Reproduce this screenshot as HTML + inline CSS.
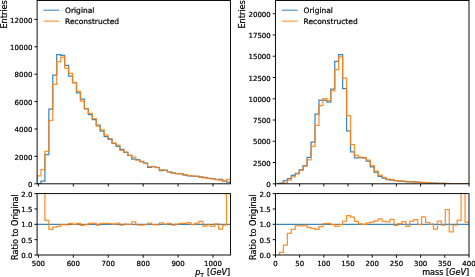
<!DOCTYPE html>
<html><head><meta charset="utf-8"><title>Original vs Reconstructed</title>
<style>
html,body{margin:0;padding:0;background:#fff;}
body{width:475px;height:277px;overflow:hidden;}
svg{display:block;}
text{font-family:"DejaVu Sans","Liberation Sans",sans-serif;fill:#000;stroke:#000;stroke-width:0.22px;}
.tl{font-size:7.0px;}
.al{font-size:8.1px;}
.lg{font-size:7.5px;}
.tk{stroke:#000;stroke-width:0.95;}
.sp{fill:none;stroke:#000;stroke-width:0.95;}
</style></head>
<body>
<svg width="475" height="277" viewBox="0 0 475 277">
<rect width="475" height="277" fill="#fff"/>
<clipPath id="Lm"><rect x="37.1" y="0.5" width="193.35" height="183.3"/></clipPath>
<clipPath id="Lr"><rect x="37.1" y="193.6" width="193.35" height="61.4"/></clipPath>
<g clip-path="url(#Lm)" fill="none" stroke-width="1.25" stroke-opacity="0.88" stroke-linejoin="miter">
<path d="M37,183.8 L37,183.8 L40.95,183.8 L40.95,181 L44.9,181 L44.9,154.6 L48.85,154.6 L48.85,109 L52.8,109 L52.8,75.2 L56.74,75.2 L56.74,54.7 L60.69,54.7 L60.69,55.4 L64.64,55.4 L64.64,65.4 L68.59,65.4 L68.59,76 L72.54,76 L72.54,82.5 L76.49,82.5 L76.49,92.8 L80.44,92.8 L80.44,99 L84.39,99 L84.39,108.7 L88.34,108.7 L88.34,114.5 L92.29,114.5 L92.29,119.6 L96.23,119.6 L96.23,125 L100.18,125 L100.18,131.2 L104.13,131.2 L104.13,136.5 L108.08,136.5 L108.08,139.4 L112.03,139.4 L112.03,143.3 L115.98,143.3 L115.98,146.4 L119.93,146.4 L119.93,149.4 L123.88,149.4 L123.88,152.4 L127.83,152.4 L127.83,155.3 L131.78,155.3 L131.78,159 L135.72,159 L135.72,159.7 L139.67,159.7 L139.67,161.3 L143.62,161.3 L143.62,163.2 L147.57,163.2 L147.57,167.3 L151.52,167.3 L151.52,166.6 L155.47,166.6 L155.47,167.4 L159.42,167.4 L159.42,170.5 L163.37,170.5 L163.37,170.1 L167.32,170.1 L167.32,171.9 L171.27,171.9 L171.27,172.8 L175.21,172.8 L175.21,173.7 L179.16,173.7 L179.16,173.9 L183.11,173.9 L183.11,175 L187.06,175 L187.06,175.8 L191.01,175.8 L191.01,176.1 L194.96,176.1 L194.96,176.4 L198.91,176.4 L198.91,177.2 L202.86,177.2 L202.86,177.4 L206.81,177.4 L206.81,178.3 L210.76,178.3 L210.76,178.5 L214.7,178.5 L214.7,179.5 L218.65,179.5 L218.65,179.4 L222.6,179.4 L222.6,181 L226.55,181 L226.55,182.1 L230.5,182.1 L230.5,183.8" stroke="#1f77b4"/>
<path d="M37,183.8 L37,175.9 L40.95,175.9 L40.95,169.6 L44.9,169.6 L44.9,151.3 L48.85,151.3 L48.85,120.4 L52.8,120.4 L52.8,84.4 L56.74,84.4 L56.74,61.6 L60.69,61.6 L60.69,57.2 L64.64,57.2 L64.64,68.2 L68.59,68.2 L68.59,73.4 L72.54,73.4 L72.54,82.6 L76.49,82.6 L76.49,91.3 L80.44,91.3 L80.44,101.2 L84.39,101.2 L84.39,108.8 L88.34,108.8 L88.34,113.4 L92.29,113.4 L92.29,118.6 L96.23,118.6 L96.23,126.1 L100.18,126.1 L100.18,129.8 L104.13,129.8 L104.13,135.11 L108.08,135.11 L108.08,138.53 L112.03,138.53 L112.03,143.04 L115.98,143.04 L115.98,145.06 L119.93,145.06 L119.93,150.41 L123.88,150.41 L123.88,152.09 L127.83,152.09 L127.83,155.3 L131.78,155.3 L131.78,157.06 L135.72,157.06 L135.72,160.09 L139.67,160.09 L139.67,161.89 L143.62,161.89 L143.62,163.33 L147.57,163.33 L147.57,166.6 L151.52,166.6 L151.52,166.71 L155.47,166.71 L155.47,167.67 L159.42,167.67 L159.42,169.85 L163.37,169.85 L163.37,170.06 L167.32,170.06 L167.32,171.55 L171.27,171.55 L171.27,173.12 L175.21,173.12 L175.21,173.63 L179.16,173.63 L179.16,173.58 L183.11,173.58 L183.11,174.71 L187.06,174.71 L187.06,175.33 L191.01,175.33 L191.01,176.18 L194.96,176.18 L194.96,176.13 L198.91,176.13 L198.91,176.58 L202.86,176.58 L202.86,177.78 L206.81,177.78 L206.81,178.39 L210.76,178.39 L210.76,178.86 L214.7,178.86 L214.7,179.43 L218.65,179.43 L218.65,180.07 L222.6,180.07 L222.6,181.08 L226.55,181.08 L226.55,179.4 L230.5,179.4 L230.5,183.8" stroke="#ff7f0e"/>
</g>
<g clip-path="url(#Lr)" fill="none" stroke-width="1.25" stroke-opacity="0.88">
<line x1="37.1" y1="224.3" x2="230.45" y2="224.3" stroke="#1f77b4"/>
<path d="M40.95,150 L44.9,150 L44.9,220.3 L48.85,220.3 L48.85,229.3 L52.8,229.3 L52.8,227 L56.74,227 L56.74,226.3 L60.69,226.3 L60.69,224.7 L64.64,224.7 L64.64,224.8 L68.59,224.8 L68.59,223.4 L72.54,223.4 L72.54,224.3 L76.49,224.3 L76.49,223.4 L80.44,223.4 L80.44,225.4 L84.39,225.4 L84.39,224.5 L88.34,224.5 L88.34,223.4 L92.29,223.4 L92.29,223.4 L96.23,223.4 L96.23,225.2 L100.18,225.2 L100.18,223.4 L104.13,223.4 L104.13,223.4 L108.08,223.4 L108.08,223.7 L112.03,223.7 L112.03,224.1 L115.98,224.1 L115.98,223.2 L119.93,223.2 L119.93,225.2 L123.88,225.2 L123.88,224 L127.83,224 L127.83,224.3 L131.78,224.3 L131.78,221.9 L135.72,221.9 L135.72,224.8 L139.67,224.8 L139.67,225.1 L143.62,225.1 L143.62,224.5 L147.57,224.5 L147.57,223 L151.52,223 L151.52,224.5 L155.47,224.5 L155.47,224.8 L159.42,224.8 L159.42,222.8 L163.37,222.8 L163.37,224.2 L167.32,224.2 L167.32,223.4 L171.27,223.4 L171.27,225.2 L175.21,225.2 L175.21,224.1 L179.16,224.1 L179.16,223.3 L183.11,223.3 L183.11,223.3 L187.06,223.3 L187.06,222.5 L191.01,222.5 L191.01,224.6 L194.96,224.6 L194.96,223.2 L198.91,223.2 L198.91,221.4 L202.86,221.4 L202.86,226.1 L206.81,226.1 L206.81,224.8 L210.76,224.8 L210.76,226.4 L214.7,226.4 L214.7,223.8 L218.65,223.8 L218.65,229 L222.6,229 L222.6,225.2 L226.55,225.2 L226.55,150 L230.5,150" stroke="#ff7f0e"/>
</g>
<rect x="37.1" y="0.5" width="193.35" height="183.3" class="sp"/>
<rect x="37.1" y="193.6" width="193.35" height="61.4" class="sp"/>
<line x1="34.4" y1="183.8" x2="37.1" y2="183.8" class="tk"/>
<text x="32.4" y="186.95" class="tl" text-anchor="end">0</text>
<line x1="34.4" y1="156.4" x2="37.1" y2="156.4" class="tk"/>
<text x="32.4" y="159.55" class="tl" text-anchor="end">2000</text>
<line x1="34.4" y1="129" x2="37.1" y2="129" class="tk"/>
<text x="32.4" y="132.15" class="tl" text-anchor="end">4000</text>
<line x1="34.4" y1="101.6" x2="37.1" y2="101.6" class="tk"/>
<text x="32.4" y="104.75" class="tl" text-anchor="end">6000</text>
<line x1="34.4" y1="74.2" x2="37.1" y2="74.2" class="tk"/>
<text x="32.4" y="77.35" class="tl" text-anchor="end">8000</text>
<line x1="34.4" y1="46.8" x2="37.1" y2="46.8" class="tk"/>
<text x="32.4" y="49.95" class="tl" text-anchor="end">10000</text>
<line x1="34.4" y1="19.4" x2="37.1" y2="19.4" class="tk"/>
<text x="32.4" y="22.55" class="tl" text-anchor="end">12000</text>
<line x1="34.4" y1="255" x2="37.1" y2="255" class="tk"/>
<text x="32.4" y="258.15" class="tl" text-anchor="end">0.0</text>
<line x1="34.4" y1="239.65" x2="37.1" y2="239.65" class="tk"/>
<text x="32.4" y="242.8" class="tl" text-anchor="end">0.5</text>
<line x1="34.4" y1="224.3" x2="37.1" y2="224.3" class="tk"/>
<text x="32.4" y="227.45" class="tl" text-anchor="end">1.0</text>
<line x1="34.4" y1="208.95" x2="37.1" y2="208.95" class="tk"/>
<text x="32.4" y="212.1" class="tl" text-anchor="end">1.5</text>
<line x1="34.4" y1="193.6" x2="37.1" y2="193.6" class="tk"/>
<text x="32.4" y="196.75" class="tl" text-anchor="end">2.0</text>
<line x1="38.4" y1="183.8" x2="38.4" y2="186.5" class="tk"/>
<line x1="73.32" y1="183.8" x2="73.32" y2="186.5" class="tk"/>
<line x1="108.24" y1="183.8" x2="108.24" y2="186.5" class="tk"/>
<line x1="143.16" y1="183.8" x2="143.16" y2="186.5" class="tk"/>
<line x1="178.08" y1="183.8" x2="178.08" y2="186.5" class="tk"/>
<line x1="213" y1="183.8" x2="213" y2="186.5" class="tk"/>
<line x1="38.4" y1="255" x2="38.4" y2="257.7" class="tk"/>
<text x="38.4" y="265.7" class="tl" text-anchor="middle">500</text>
<line x1="73.32" y1="255" x2="73.32" y2="257.7" class="tk"/>
<text x="73.32" y="265.7" class="tl" text-anchor="middle">600</text>
<line x1="108.24" y1="255" x2="108.24" y2="257.7" class="tk"/>
<text x="108.24" y="265.7" class="tl" text-anchor="middle">700</text>
<line x1="143.16" y1="255" x2="143.16" y2="257.7" class="tk"/>
<text x="143.16" y="265.7" class="tl" text-anchor="middle">800</text>
<line x1="178.08" y1="255" x2="178.08" y2="257.7" class="tk"/>
<text x="178.08" y="265.7" class="tl" text-anchor="middle">900</text>
<line x1="213" y1="255" x2="213" y2="257.7" class="tk"/>
<text x="213" y="265.7" class="tl" text-anchor="middle">1000</text>
<text class="al" transform="translate(6.5,0.3) rotate(-90)" text-anchor="end">Entries</text>
<text class="al" transform="translate(17.5,194.2) rotate(-90)" text-anchor="end">Ratio to Original</text>
<text class="al" x="230.15" y="275.45" text-anchor="end"><tspan font-style="italic">p</tspan><tspan font-size="5.35" dy="1.5">T</tspan><tspan dy="-1.5" dx="0.7"> [</tspan><tspan font-style="italic">GeV</tspan>]</text>
<line x1="43.45" y1="10.25" x2="59.15" y2="10.25" stroke="#1f77b4" stroke-width="1.25" opacity="0.75"/>
<line x1="43.45" y1="21.2" x2="59.15" y2="21.2" stroke="#ff7f0e" stroke-width="1.25" opacity="0.75"/>
<text x="65.05" y="12.6" class="lg">Original</text>
<text x="65.05" y="23.55" class="lg">Reconstructed</text>
<clipPath id="Rm"><rect x="275.45" y="0.5" width="193.55" height="183.3"/></clipPath>
<clipPath id="Rr"><rect x="275.45" y="193.6" width="193.55" height="61.4"/></clipPath>
<g clip-path="url(#Rm)" fill="none" stroke-width="1.25" stroke-opacity="0.88" stroke-linejoin="miter">
<path d="M275.5,183.8 L275.5,183.8 L279.45,183.8 L279.45,183 L283.4,183 L283.4,180.5 L287.35,180.5 L287.35,178.6 L291.3,178.6 L291.3,175.4 L295.24,175.4 L295.24,173.3 L299.19,173.3 L299.19,169.8 L303.14,169.8 L303.14,165.5 L307.09,165.5 L307.09,157.3 L311.04,157.3 L311.04,142 L314.99,142 L314.99,114.1 L318.94,114.1 L318.94,100.1 L322.89,100.1 L322.89,100.3 L326.84,100.3 L326.84,102.2 L330.79,102.2 L330.79,89.1 L334.73,89.1 L334.73,61.4 L338.68,61.4 L338.68,54.7 L342.63,54.7 L342.63,88.6 L346.58,88.6 L346.58,130.8 L350.53,130.8 L350.53,151.9 L354.48,151.9 L354.48,157.8 L358.43,157.8 L358.43,157.5 L362.38,157.5 L362.38,157.8 L366.33,157.8 L366.33,161.2 L370.28,161.2 L370.28,166.8 L374.22,166.8 L374.22,172.4 L378.17,172.4 L378.17,176.4 L382.12,176.4 L382.12,178 L386.07,178 L386.07,179.5 L390.02,179.5 L390.02,180.2 L393.97,180.2 L393.97,180.6 L397.92,180.6 L397.92,181 L401.87,181 L401.87,181.3 L405.82,181.3 L405.82,181.6 L409.77,181.6 L409.77,181.9 L413.71,181.9 L413.71,182.2 L417.66,182.2 L417.66,182.4 L421.61,182.4 L421.61,182.6 L425.56,182.6 L425.56,182.8 L429.51,182.8 L429.51,183 L433.46,183 L433.46,183.2 L437.41,183.2 L437.41,183.3 L441.36,183.3 L441.36,183.4 L445.31,183.4 L445.31,183.5 L449.26,183.5 L449.26,183.55 L453.2,183.55 L453.2,183.6 L457.15,183.6 L457.15,183.65 L461.1,183.65 L461.1,183.7 L465.05,183.7 L465.05,183.7 L469,183.7 L469,183.8" stroke="#1f77b4"/>
<path d="M275.5,183.8 L275.5,183.8 L279.45,183.8 L279.45,183.73 L283.4,183.73 L283.4,182.75 L287.35,182.75 L287.35,180.14 L291.3,180.14 L291.3,176.79 L295.24,176.79 L295.24,173.84 L299.19,173.84 L299.19,170.47 L303.14,170.47 L303.14,166.07 L307.09,166.07 L307.09,159.95 L311.04,159.95 L311.04,146.3 L314.99,146.3 L314.99,125.4 L318.94,125.4 L318.94,105.5 L322.89,105.5 L322.89,98.6 L326.84,98.6 L326.84,100.6 L330.79,100.6 L330.79,90.8 L334.73,90.8 L334.73,69.7 L338.68,69.7 L338.68,56.9 L342.63,56.9 L342.63,78.2 L346.58,78.2 L346.58,115.6 L350.53,115.6 L350.53,144.56 L354.48,144.56 L354.48,155.3 L358.43,155.3 L358.43,157.03 L362.38,157.03 L362.38,157.93 L366.33,157.93 L366.33,160.14 L370.28,160.14 L370.28,165.53 L374.22,165.53 L374.22,171.09 L378.17,171.09 L378.17,175.11 L382.12,175.11 L382.12,177.45 L386.07,177.45 L386.07,179.16 L390.02,179.16 L390.02,179.62 L393.97,179.62 L393.97,180.7 L397.92,180.7 L397.92,180.94 L401.87,180.94 L401.87,181.08 L405.82,181.08 L405.82,181.75 L409.77,181.75 L409.77,181.71 L413.71,181.71 L413.71,181.96 L417.66,181.96 L417.66,182.42 L421.61,182.42 L421.61,182.31 L425.56,182.31 L425.56,182.74 L429.51,182.74 L429.51,183 L433.46,183 L433.46,183.3 L437.41,183.3 L437.41,183.25 L441.36,183.25 L441.36,183.41 L445.31,183.41 L445.31,183.36 L449.26,183.36 L449.26,183.61 L453.2,183.61 L453.2,183.61 L457.15,183.61 L457.15,183.63 L461.1,183.63 L461.1,183.5 L465.05,183.5 L465.05,183.69 L469,183.69 L469,183.8" stroke="#ff7f0e"/>
</g>
<g clip-path="url(#Rr)" fill="none" stroke-width="1.25" stroke-opacity="0.88">
<line x1="275.45" y1="224.3" x2="469" y2="224.3" stroke="#1f77b4"/>
<path d="M279.45,255 L279.45,252.45 L283.4,252.45 L283.4,245.21 L287.35,245.21 L287.35,233.39 L291.3,233.39 L291.3,229.37 L295.24,229.37 L295.24,225.87 L299.19,225.87 L299.19,225.77 L303.14,225.77 L303.14,225.25 L307.09,225.25 L307.09,227.37 L311.04,227.37 L311.04,228.35 L314.99,228.35 L314.99,229.37 L318.94,229.37 L318.94,226.6 L322.89,226.6 L322.89,223.69 L326.84,223.69 L326.84,223.44 L330.79,223.44 L330.79,224.61 L334.73,224.61 L334.73,226.26 L338.68,226.26 L338.68,224.61 L342.63,224.61 L342.63,221.02 L346.58,221.02 L346.58,215.61 L350.53,215.61 L350.53,217.24 L354.48,217.24 L354.48,221.35 L358.43,221.35 L358.43,223.75 L362.38,223.75 L362.38,224.45 L366.33,224.45 L366.33,222.86 L370.28,222.86 L370.28,222 L374.22,222 L374.22,220.77 L378.17,220.77 L378.17,218.93 L382.12,218.93 L382.12,221.38 L386.07,221.38 L386.07,221.84 L390.02,221.84 L390.02,219.39 L393.97,219.39 L393.97,225.28 L397.92,225.28 L397.92,223.69 L401.87,223.69 L401.87,221.63 L405.82,221.63 L405.82,226.45 L409.77,226.45 L409.77,221.23 L413.71,221.23 L413.71,219.73 L417.66,219.73 L417.66,224.67 L421.61,224.67 L421.61,216.78 L425.56,216.78 L425.56,222.46 L429.51,222.46 L429.51,224.18 L433.46,224.18 L433.46,229.21 L437.41,229.21 L437.41,221.23 L441.36,221.23 L441.36,225.16 L445.31,225.16 L445.31,209.56 L449.26,209.56 L449.26,231.97 L453.2,231.97 L453.2,225.22 L457.15,225.22 L457.15,220.31 L461.1,220.31 L461.1,162.9 L465.05,162.9 L465.05,222.24 L469,222.24" stroke="#ff7f0e"/>
</g>
<rect x="275.45" y="0.5" width="193.55" height="183.3" class="sp"/>
<rect x="275.45" y="193.6" width="193.55" height="61.4" class="sp"/>
<line x1="272.75" y1="183.8" x2="275.45" y2="183.8" class="tk"/>
<text x="270.75" y="186.95" class="tl" text-anchor="end">0</text>
<line x1="272.75" y1="162.54" x2="275.45" y2="162.54" class="tk"/>
<text x="270.75" y="165.69" class="tl" text-anchor="end">2500</text>
<line x1="272.75" y1="141.28" x2="275.45" y2="141.28" class="tk"/>
<text x="270.75" y="144.43" class="tl" text-anchor="end">5000</text>
<line x1="272.75" y1="120.02" x2="275.45" y2="120.02" class="tk"/>
<text x="270.75" y="123.17" class="tl" text-anchor="end">7500</text>
<line x1="272.75" y1="98.76" x2="275.45" y2="98.76" class="tk"/>
<text x="270.75" y="101.91" class="tl" text-anchor="end">10000</text>
<line x1="272.75" y1="77.5" x2="275.45" y2="77.5" class="tk"/>
<text x="270.75" y="80.65" class="tl" text-anchor="end">12500</text>
<line x1="272.75" y1="56.24" x2="275.45" y2="56.24" class="tk"/>
<text x="270.75" y="59.39" class="tl" text-anchor="end">15000</text>
<line x1="272.75" y1="34.98" x2="275.45" y2="34.98" class="tk"/>
<text x="270.75" y="38.13" class="tl" text-anchor="end">17500</text>
<line x1="272.75" y1="13.72" x2="275.45" y2="13.72" class="tk"/>
<text x="270.75" y="16.87" class="tl" text-anchor="end">20000</text>
<line x1="272.75" y1="255" x2="275.45" y2="255" class="tk"/>
<text x="270.75" y="258.15" class="tl" text-anchor="end">0.0</text>
<line x1="272.75" y1="239.65" x2="275.45" y2="239.65" class="tk"/>
<text x="270.75" y="242.8" class="tl" text-anchor="end">0.5</text>
<line x1="272.75" y1="224.3" x2="275.45" y2="224.3" class="tk"/>
<text x="270.75" y="227.45" class="tl" text-anchor="end">1.0</text>
<line x1="272.75" y1="208.95" x2="275.45" y2="208.95" class="tk"/>
<text x="270.75" y="212.1" class="tl" text-anchor="end">1.5</text>
<line x1="272.75" y1="193.6" x2="275.45" y2="193.6" class="tk"/>
<text x="270.75" y="196.75" class="tl" text-anchor="end">2.0</text>
<line x1="275.45" y1="183.8" x2="275.45" y2="186.5" class="tk"/>
<line x1="299.64" y1="183.8" x2="299.64" y2="186.5" class="tk"/>
<line x1="323.84" y1="183.8" x2="323.84" y2="186.5" class="tk"/>
<line x1="348.03" y1="183.8" x2="348.03" y2="186.5" class="tk"/>
<line x1="372.23" y1="183.8" x2="372.23" y2="186.5" class="tk"/>
<line x1="396.42" y1="183.8" x2="396.42" y2="186.5" class="tk"/>
<line x1="420.61" y1="183.8" x2="420.61" y2="186.5" class="tk"/>
<line x1="444.81" y1="183.8" x2="444.81" y2="186.5" class="tk"/>
<line x1="469" y1="183.8" x2="469" y2="186.5" class="tk"/>
<line x1="275.45" y1="255" x2="275.45" y2="257.7" class="tk"/>
<text x="275.45" y="265.7" class="tl" text-anchor="middle">0</text>
<line x1="299.64" y1="255" x2="299.64" y2="257.7" class="tk"/>
<text x="299.64" y="265.7" class="tl" text-anchor="middle">50</text>
<line x1="323.84" y1="255" x2="323.84" y2="257.7" class="tk"/>
<text x="323.84" y="265.7" class="tl" text-anchor="middle">100</text>
<line x1="348.03" y1="255" x2="348.03" y2="257.7" class="tk"/>
<text x="348.03" y="265.7" class="tl" text-anchor="middle">150</text>
<line x1="372.23" y1="255" x2="372.23" y2="257.7" class="tk"/>
<text x="372.23" y="265.7" class="tl" text-anchor="middle">200</text>
<line x1="396.42" y1="255" x2="396.42" y2="257.7" class="tk"/>
<text x="396.42" y="265.7" class="tl" text-anchor="middle">250</text>
<line x1="420.61" y1="255" x2="420.61" y2="257.7" class="tk"/>
<text x="420.61" y="265.7" class="tl" text-anchor="middle">300</text>
<line x1="444.81" y1="255" x2="444.81" y2="257.7" class="tk"/>
<text x="444.81" y="265.7" class="tl" text-anchor="middle">350</text>
<line x1="469" y1="255" x2="469" y2="257.7" class="tk"/>
<text x="469" y="265.7" class="tl" text-anchor="middle">400</text>
<text class="al" transform="translate(244.85,0.3) rotate(-90)" text-anchor="end">Entries</text>
<text class="al" transform="translate(255.85,194.2) rotate(-90)" text-anchor="end">Ratio to Original</text>
<text class="al" x="469.2" y="275.45" text-anchor="end">mass [<tspan font-style="italic">GeV</tspan>]</text>
<line x1="282" y1="10.25" x2="297.7" y2="10.25" stroke="#1f77b4" stroke-width="1.25" opacity="0.75"/>
<line x1="282" y1="21.2" x2="297.7" y2="21.2" stroke="#ff7f0e" stroke-width="1.25" opacity="0.75"/>
<text x="303.6" y="12.6" class="lg">Original</text>
<text x="303.6" y="23.55" class="lg">Reconstructed</text>
</svg>
</body></html>
